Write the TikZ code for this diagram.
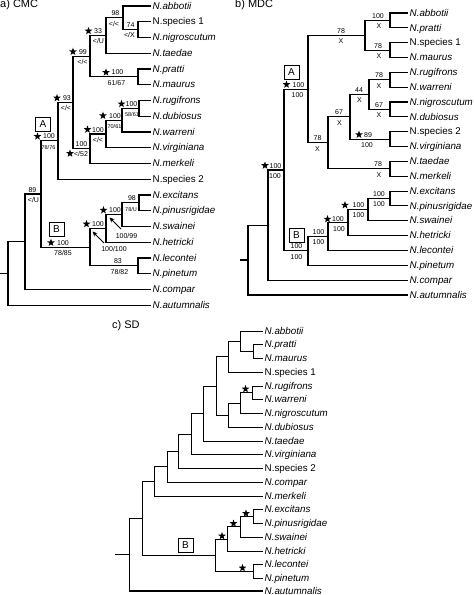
\documentclass[tikz,border=0pt]{standalone}
\usepackage{fontspec}
\setmainfont{Liberation Sans}
\usetikzlibrary{shapes.geometric,arrows.meta}
\begin{document}
\begin{tikzpicture}[x=1pt,y=-1pt,
  br/.style={line width=1.1pt},
  brc/.style={line width=0.9pt},
  leaf/.style={anchor=west,inner xsep=1.5pt,inner ysep=0pt,text height=7.2pt,text depth=0.8pt,font=\fontsize{9.8}{10}\selectfont\itshape},
  leafu/.style={leaf,font=\fontsize{9.8}{10}\selectfont},
  sl/.style={anchor=base,inner sep=0pt,font=\fontsize{7}{8}\selectfont},
  sls/.style={anchor=base,inner sep=0pt,font=\fontsize{5.5}{6}\selectfont},
  smark/.style={star,star points=5,star point ratio=2.4,fill=black,inner sep=0pt,minimum size=8pt},
  cbox/.style={draw,line width=0.8pt,minimum width=15pt,minimum height=14pt,inner sep=0pt,font=\fontsize{10}{10}\selectfont},
  ttl/.style={anchor=west,inner sep=0pt,font=\fontsize{11}{12}\selectfont}
]
\useasboundingbox (0,0) rectangle (474,595);
\fill[white] (0,0) rectangle (474,595);

% ---------------- titles
\node[ttl] (ta) at (0,4.5) {a) CMC};
\node[ttl] (tb) at (235,4.5) {b) MDC};
\node[ttl] (tc) at (112,326) {c) SD};

% ================= panel a
\node[leaf]  (a0)  at (151,6)      {N.abbotii};
\node[leafu] (a1)  at (151,21.75)  {N.species 1};
\node[leaf]  (a2)  at (151,37.5)   {N.nigroscutum};
\node[leaf]  (a3)  at (151,53.25)  {N.taedae};
\node[leaf]  (a4)  at (151,69)     {N.pratti};
\node[leaf]  (a5)  at (151,84.75)  {N.maurus};
\node[leaf]  (a6)  at (151,100.5)  {N.rugifrons};
\node[leaf]  (a7)  at (151,116.25) {N.dubiosus};
\node[leaf]  (a8)  at (151,132)    {N.warreni};
\node[leaf]  (a9)  at (151,147.75) {N.virginiana};
\node[leaf]  (a10) at (151,163.5)  {N.merkeli};
\node[leafu] (a11) at (151,179.25) {N.species 2};
\node[leaf]  (a12) at (151,195)    {N.excitans};
\node[leaf]  (a13) at (151,210.75) {N.pinusrigidae};
\node[leaf]  (a14) at (151,226.5)  {N.swainei};
\node[leaf]  (a15) at (151,242.25) {N.hetricki};
\node[leaf]  (a16) at (151,258)    {N.lecontei};
\node[leaf]  (a17) at (151,273.75) {N.pinetum};
\node[leaf]  (a18) at (151,289.5)  {N.compar};
\node[leaf]  (a19) at (151,305.25) {N.autumnalis};

\coordinate (a_sn)   at (138,29.63);
\coordinate (a_98)   at (123,17.81);
\coordinate (a_33)   at (106,35.53);
\coordinate (a_pm)   at (138,76.88);
\coordinate (a_99)   at (90,56.2);
\coordinate (a_rd)   at (139,108.38);
\coordinate (a_rdw)  at (122,120.19);
\coordinate (a_rdwv) at (106,133.97);
\coordinate (a_vm)   at (90,148.73);
\coordinate (a_93)   at (73,102.47);
\coordinate (a_A)    at (58,140.86);
\coordinate (a_ep)   at (139,202.88);
\coordinate (a_eps)  at (122,214.69);
\coordinate (a_epsh) at (106,228.47);
\coordinate (a_lp)   at (138,265.88);
\coordinate (a_B)    at (90,247.17);
\coordinate (a_AB)   at (41,194.02);
\coordinate (a_ABc)  at (25,241.76);
\coordinate (a_root) at (8,273.5);
\coordinate (a_r0)   at (0,273.5);

\foreach \p/\c in {a_sn/a1.west,a_sn/a2.west,a_98/a0.west,a_98/a_sn,a_33/a_98,a_33/a3.west,
  a_pm/a4.west,a_pm/a5.west,a_99/a_33,a_99/a_pm,a_rd/a6.west,a_rd/a7.west,a_rdw/a_rd,a_rdw/a8.west,
  a_rdwv/a_rdw,a_rdwv/a9.west,a_vm/a_rdwv,a_vm/a10.west,a_93/a_99,a_93/a_vm,a_A/a_93,a_A/a11.west,
  a_ep/a12.west,a_ep/a13.west,a_eps/a_ep,a_eps/a14.west,a_epsh/a_eps,a_epsh/a15.west,
  a_lp/a16.west,a_lp/a17.west,a_B/a_epsh,a_B/a_lp,a_AB/a_A,a_AB/a_B,a_ABc/a_AB,a_ABc/a18.west,
  a_root/a_ABc,a_root/a19.west}
  \draw[br] (\p) |- (\c);
\draw[br] (a_r0) -- (a_root);

% supports a
\node[sl] (la1u) at (115.5,15.8) {98};   \node[sl] (la1d) at (114,26) {</<};
\node[sl] (la2u) at (130.5,27.6) {74};   \node[sl] (la2d) at (129.5,37.8) {</X};
\node[smark] (sa3) at (88.5,31) {};  \node[sl] (la3u) at (98,33.5) {33}; \node[sl] (la3d) at (98.5,43.7) {</U};
\node[smark] (sa4) at (106,72.4) {}; \node[sl] (la4u) at (117.5,74.9) {100}; \node[sl] (la4d) at (116.5,85.1) {61/67};
\node[smark] (sa5) at (73,51.7) {};  \node[sl] (la5u) at (83,54.2) {99}; \node[sl] (la5d) at (82.5,64.4) {</<};
\node[smark] (sa6) at (57,98) {};    \node[sl] (la6u) at (67,100.5) {93}; \node[sl] (la6d) at (66,110.7) {</<};
\node[cbox] (boxA) at (43,124) {A};
\node[smark] (sa7) at (37.5,136.4) {}; \node[sl] (la7u) at (49,138.9) {100}; \node[sls] (la7d) at (48.5,149.1) {78/76};
\node[smark] (sa8) at (121.5,103.9) {}; \node[sl] (la8u) at (131.5,106.4) {100}; \node[sls] (la8d) at (132,116.6) {58/61};
\node[smark] (sa9) at (103,115.7) {}; \node[sl] (la9u) at (115,118.2) {100}; \node[sls] (la9d) at (114.5,128.4) {70/61};
\node[smark] (sa10) at (87.5,129.5) {}; \node[sl] (la10u) at (98,132) {100}; \node[sl] (la10d) at (98,142.2) {</<};
\node[sl] (la11u) at (81.5,146.7) {100}; \node[smark] (sa11) at (70,153.5) {}; \node[sl] (la11d) at (81,156.9) {</52};
\node[sl] (la12u) at (32.5,192) {89}; \node[sl] (la12d) at (33.5,202.2) {</U};
\node[cbox] (boxBa) at (56.5,229.5) {B};
\node[smark] (sa13) at (51,242.7) {}; \node[sl] (la13u) at (63,245.2) {100}; \node[sl] (la13d) at (63,255.4) {78/85};
\node[sl] (la14u) at (132,200.9) {98}; \node[sls] (la14d) at (131,211.1) {78/U};
\node[smark] (sa15) at (103.5,210.2) {}; \node[sl] (la15u) at (115,212.7) {100};
\node[sl] (la15d) at (126.5,238.5) {100/99};
\node[smark] (sa16) at (86.5,224) {}; \node[sl] (la16u) at (98,226.5) {100};
\node[sl] (la16d) at (114,251) {100/100};
\node[sl] (la17u) at (118,263.9) {83}; \node[sl] (la17d) at (119.5,274.1) {78/82};
\coordinate (ar1s) at (121,229); \coordinate (ar1e) at (109.5,217.5);
\coordinate (ar2s) at (104,243); \coordinate (ar2e) at (92.5,231.5);
\draw[line width=0.9pt,-{Stealth[length=5pt,width=4.5pt]}] (ar1s) -- (ar1e);
\draw[line width=0.9pt,-{Stealth[length=5pt,width=4.5pt]}] (ar2s) -- (ar2e);

% ================= panel b
\node[leaf]  (b0)  at (408,13)     {N.abbotii};
\node[leaf]  (b1)  at (408,27.84)  {N.pratti};
\node[leafu] (b2)  at (408,42.68)  {N.species 1};
\node[leaf]  (b3)  at (408,57.52)  {N.maurus};
\node[leaf]  (b4)  at (408,72.36)  {N.rugifrons};
\node[leaf]  (b5)  at (408,87.2)   {N.warreni};
\node[leaf]  (b6)  at (408,102.04) {N.nigroscutum};
\node[leaf]  (b7)  at (408,116.88) {N.dubiosus};
\node[leafu] (b8)  at (408,131.72) {N.species 2};
\node[leaf]  (b9)  at (408,146.56) {N.virginiana};
\node[leaf]  (b10) at (408,161.4)  {N.taedae};
\node[leaf]  (b11) at (408,176.24) {N.merkeli};
\node[leaf]  (b12) at (408,191.08) {N.excitans};
\node[leaf]  (b13) at (408,205.92) {N.pinusrigidae};
\node[leaf]  (b14) at (408,220.76) {N.swainei};
\node[leaf]  (b15) at (408,235.6)  {N.hetricki};
\node[leaf]  (b16) at (408,250.44) {N.lecontei};
\node[leaf]  (b17) at (408,265.28) {N.pinetum};
\node[leaf]  (b18) at (408,280.12) {N.compar};
\node[leaf]  (b19) at (408,294.96) {N.autumnalis};

\coordinate (b_ap)   at (390,20.42);
\coordinate (b_sm)   at (390,50.1);
\coordinate (b_apsm) at (365,35.26);
\coordinate (b_rw)   at (390,79.78);
\coordinate (b_nd)   at (390,109.46);
\coordinate (b_44)   at (369,94.62);
\coordinate (b_sv)   at (390,139.14);
\coordinate (b_67)   at (350,116.88);
\coordinate (b_tm)   at (390,168.82);
\coordinate (b_78)   at (328,142.85);
\coordinate (b_A)    at (308,89.05);
\coordinate (b_ep)   at (390,198.5);
\coordinate (b_eps)  at (368,209.63);
\coordinate (b_epsh) at (348,222.61);
\coordinate (b_hl)   at (328,236.53);
\coordinate (b_B)    at (308,250.9);
\coordinate (b_AB)   at (284,169.98);
\coordinate (b_ABc)  at (268,225.05);
\coordinate (b_root) at (248,260);
\coordinate (b_r0)   at (240,260);

\foreach \p/\c in {b_ap/b0.west,b_ap/b1.west,b_sm/b2.west,b_sm/b3.west,b_apsm/b_ap,b_apsm/b_sm,
  b_rw/b4.west,b_rw/b5.west,b_nd/b6.west,b_nd/b7.west,b_44/b_rw,b_44/b_nd,b_sv/b8.west,b_sv/b9.west,
  b_67/b_44,b_67/b_sv,b_tm/b10.west,b_tm/b11.west,b_78/b_67,b_78/b_tm,b_A/b_apsm,b_A/b_78,
  b_ep/b12.west,b_ep/b13.west,b_eps/b_ep,b_eps/b14.west,b_epsh/b_eps,b_epsh/b15.west,
  b_hl/b_epsh,b_hl/b16.west,b_B/b_hl,b_B/b17.west,b_AB/b_A,b_AB/b_B,b_ABc/b_AB,b_ABc/b18.west,
  b_root/b_ABc,b_root/b19.west}
  \draw[br] (\p) |- (\c);
\draw[br] (b_r0) -- (b_root);

% supports b
\node[sl] (lb1u) at (378,18.4) {100}; \node[sl] (lb1d) at (379,28.6) {X};
\node[sl] (lb2u) at (378,48.1) {78};  \node[sl] (lb2d) at (379,58.3) {X};
\node[sl] (lb3u) at (341,33.3) {78};  \node[sl] (lb3d) at (341,43.5) {X};
\node[sl] (lb4u) at (379,77.8) {78};  \node[sl] (lb4d) at (379,88) {X};
\node[sl] (lb5u) at (379,107.5) {67}; \node[sl] (lb5d) at (379,117.7) {X};
\node[sl] (lb6u) at (359,92.6) {44};  \node[sl] (lb6d) at (359.5,102.8) {X};
\node[smark] (sb7) at (359,134.6) {}; \node[sl] (lb7u) at (368,137.1) {89}; \node[sl] (lb7d) at (367,147.3) {100};
\node[sl] (lb8u) at (339,114.9) {67}; \node[sl] (lb8d) at (339.5,125.1) {X};
\node[sl] (lb9u) at (378,166.8) {78}; \node[sl] (lb9d) at (379,177) {X};
\node[sl] (lb10u) at (317.5,140.85) {78}; \node[sl] (lb10d) at (317.5,151.05) {X};
\node[cbox] (boxAb) at (291.5,72.5) {A};
\node[smark] (sb11) at (286.5,84.5) {}; \node[sl] (lb11u) at (298.5,87) {100}; \node[sl] (lb11d) at (297.5,97.2) {100};
\node[smark] (sb12) at (265,165.5) {}; \node[sl] (lb12u) at (275.5,168) {100}; \node[sl] (lb12d) at (275,178.2) {100};
\node[sl] (lb13u) at (379,196.5) {100}; \node[sl] (lb13d) at (379,206.7) {100};
\node[smark] (sb14) at (345,205.1) {}; \node[sl] (lb14u) at (358.5,207.6) {100}; \node[sl] (lb14d) at (358.5,217.8) {100};
\node[smark] (sb15) at (327.5,219.1) {}; \node[sl] (lb15u) at (338,221.6) {100}; \node[sl] (lb15d) at (339,231.3) {100};
\node[sl] (lb16u) at (318.5,234.5) {100}; \node[sl] (lb16d) at (318.5,244.7) {100};
\node[cbox] (boxBb) at (296.5,235.5) {B};
\node[sl] (lb17u) at (296.5,248.9) {100}; \node[sl] (lb17d) at (296.5,259.1) {100};

% ================= panel c
\node[leaf]  (c0)  at (263,331)    {N.abbotii};
\node[leaf]  (c1)  at (263,344.75) {N.pratti};
\node[leaf]  (c2)  at (263,358.5)  {N.maurus};
\node[leafu] (c3)  at (263,372.25) {N.species 1};
\node[leaf]  (c4)  at (263,386)    {N.rugifrons};
\node[leaf]  (c5)  at (263,399.75) {N.warreni};
\node[leaf]  (c6)  at (263,413.5)  {N.nigroscutum};
\node[leaf]  (c7)  at (263,427.25) {N.dubiosus};
\node[leaf]  (c8)  at (263,441)    {N.taedae};
\node[leaf]  (c9)  at (263,454.75) {N.virginiana};
\node[leafu] (c10) at (263,468.5)  {N.species 2};
\node[leaf]  (c11) at (263,482.25) {N.compar};
\node[leaf]  (c12) at (263,496)    {N.merkeli};
\node[leaf]  (c13) at (263,509.75) {N.excitans};
\node[leaf]  (c14) at (263,523.5)  {N.pinusrigidae};
\node[leaf]  (c15) at (263,537.25) {N.swainei};
\node[leaf]  (c16) at (263,551)    {N.hetricki};
\node[leaf]  (c17) at (263,564.75) {N.lecontei};
\node[leaf]  (c18) at (263,578.5)  {N.pinetum};
\node[leaf]  (c19) at (263,590.8)  {N.autumnalis};

\coordinate (c_pm)   at (253,351.63);
\coordinate (c_apm)  at (240,341.31);
\coordinate (c_s1)   at (228,356.78);
\coordinate (c_rw)   at (252,392.88);
\coordinate (c_rwn)  at (240,403.19);
\coordinate (c_rwnd) at (228,415.22);
\coordinate (c_16)   at (216,386);
\coordinate (c_t)    at (203,413.5);
\coordinate (c_v)    at (191,434.13);
\coordinate (c_s2)   at (178,451.31);
\coordinate (c_c)    at (167,466.78);
\coordinate (c_m)    at (154,481.39);
\coordinate (c_ep)   at (253,516.63);
\coordinate (c_eps)  at (240,526.94);
\coordinate (c_epsh) at (227,538.97);
\coordinate (c_lp)   at (253,571.63);
\coordinate (c_B)    at (215,555.3);
\coordinate (c_mB)   at (142,518.34);
\coordinate (c_root) at (129,554.6);
\coordinate (c_r0)   at (115,554.6);

\foreach \p/\c in {c_pm/c1.west,c_pm/c2.west,c_apm/c0.west,c_apm/c_pm,c_s1/c_apm,c_s1/c3.west,
  c_rw/c4.west,c_rw/c5.west,c_rwn/c_rw,c_rwn/c6.west,c_rwnd/c_rwn,c_rwnd/c7.west,
  c_16/c_s1,c_16/c_rwnd,c_t/c_16,c_t/c8.west,c_v/c_t,c_v/c9.west,c_s2/c_v,c_s2/c10.west,
  c_c/c_s2,c_c/c11.west,c_m/c_c,c_m/c12.west,c_ep/c13.west,c_ep/c14.west,c_eps/c_ep,c_eps/c15.west,
  c_epsh/c_eps,c_epsh/c16.west,c_lp/c17.west,c_lp/c18.west,c_B/c_epsh,c_B/c_lp,
  c_mB/c_m,c_mB/c_B,c_root/c_mB}
  \draw[brc] (\p) |- (\c);
\draw[brc] (c_root) -- (c_root |- c19.west);
\draw[line width=2pt] (c_root |- c19.west) -- (c19.west);
\draw[brc] (c_r0) -- (c_root);

\node[smark] (sc1) at (245.5,389) {};
\node[smark] (sc2) at (246,513.5) {};
\node[smark] (sc3) at (233.5,523.5) {};
\node[smark] (sc4) at (222,536) {};
\node[smark] (sc5) at (242.5,568) {};
\node[cbox] (boxBc) at (185.5,545.5) {B};
\end{tikzpicture}
\end{document}
